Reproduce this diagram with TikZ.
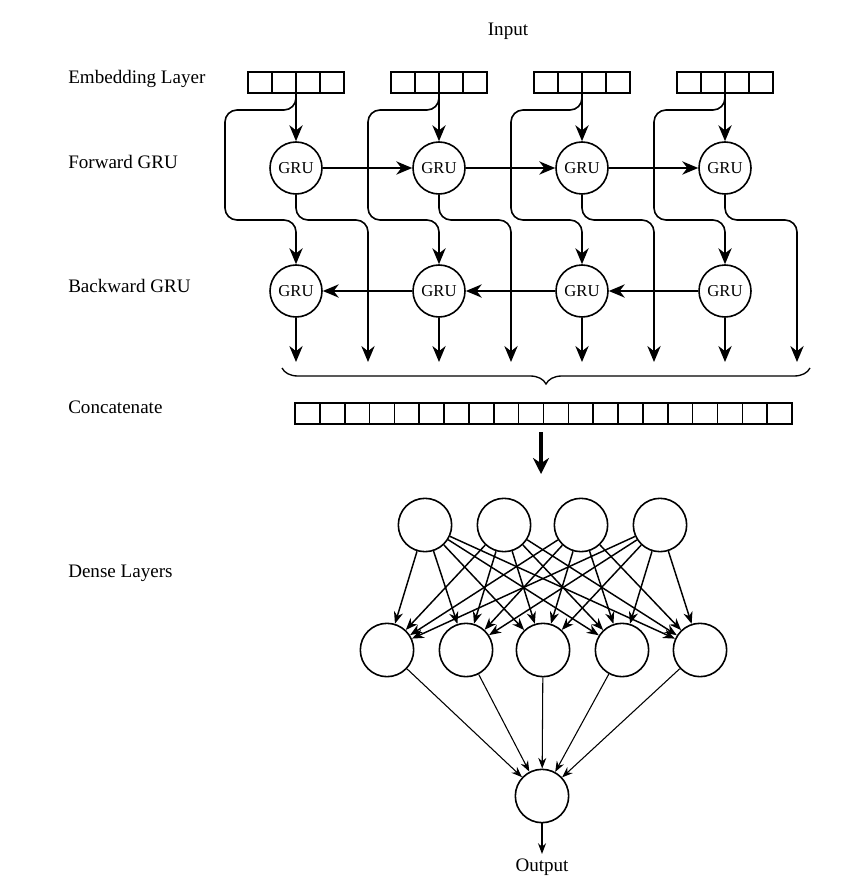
\documentclass[tikz,border=0pt]{standalone}
\usepackage{fontspec}
\setmainfont{Liberation Serif}
\usetikzlibrary{arrows.meta,decorations.pathreplacing}
\begin{document}
\begin{tikzpicture}[x=0.75pt,y=-0.75pt,
  lbl/.style={anchor=west,inner sep=0pt,font=\fontsize{14.3}{16}\selectfont},
  gru/.style={circle,draw,line width=1.2pt,minimum size=39pt,inner sep=0pt,font=\fontsize{12.5}{14}\selectfont},
  neu/.style={circle,draw,line width=1.2pt,minimum size=40pt,inner sep=0pt},
  cell/.style={draw,line width=1.2pt,minimum width=18pt,minimum height=15.5pt,inner sep=0pt},
  arr/.style={line width=1.2pt,-{Stealth[length=12pt,width=10pt]}},
  route/.style={arr,rounded corners=9pt},
  thin/.style={line width=0.8pt,-{Stealth[length=8pt,width=6pt]}}]
\useasboundingbox (0,0) rectangle (860,884);
\node[font=\fontsize{14.3}{16}\selectfont] (in) at (508,31) {Input};
\node[lbl] (l1) at (68,79) {Embedding Layer};
\node[lbl] (l2) at (68,162) {Forward GRU};
\node[lbl] (l3) at (68,286) {Backward GRU};
\node[lbl] (l4) at (68,407) {Concatenate};
\node[lbl] (l5) at (68,573) {Dense Layers};
\foreach \i/\x in {1/296,2/439,3/582,4/725}{
  \foreach \k in {0,1,2,3}{
    \node[cell] (e\i\k) at ({\x-36+\k*24},82.5) {};
  }
  \coordinate (s\i) at (\x,93);
  \node[gru] (f\i) at (\x,168) {GRU};
  \node[gru] (b\i) at (\x,291) {GRU};
  \coordinate (fo\i) at (\x+72,362);
  \coordinate (bo\i) at (\x,362);
  \draw[arr] (s\i) -- (f\i);
  \draw[route] (s\i) -- (\x,110) -- (\x-71,110) -- (\x-71,220) -- (\x,220) -- (b\i);
  \draw[route] (f\i) -- (\x,220) -- (\x+72,220) -- (fo\i);
  \draw[arr] (b\i) -- (bo\i);
}
\foreach \a/\b in {1/2,2/3,3/4}{
  \draw[arr] (f\a) -- (f\b);
  \draw[arr] (b\b) -- (b\a);
}
\draw[line width=1pt,decorate,decoration={brace,mirror,amplitude=12pt}] (282,368) -- (810,368);
\foreach \k in {0,...,19}{
  \node[cell,minimum width=18.64pt] (c\k) at ({295+12.43+\k*24.85},413.5) {};
}
\coordinate (ta) at (541,432);
\coordinate (tb) at (541,474);
\draw[line width=3pt,-{Stealth[length=12pt,width=12pt]}] (ta) -- (tb);
\foreach \i/\x in {1/425,2/504,3/581,4/660}{\node[neu] (t\i) at (\x,525) {};}
\foreach \j/\x in {1/387,2/466,3/543,4/622,5/700}{\node[neu] (m\j) at (\x,650) {};}
\node[neu] (o) at (542,796) {};
\foreach \i in {1,...,4}{\foreach \j in {1,...,5}{
  \draw[line width=1.1pt,-{Stealth[length=9pt,width=7pt]}] (t\i) -- (m\j);}}
\foreach \j in {1,...,5}{\draw[thin] (m\j) -- (o);}
\node[font=\fontsize{14.3}{16}\selectfont] (out) at (542,867) {Output};
\draw[thin] (o) -- (out);
\end{tikzpicture}
\end{document}
